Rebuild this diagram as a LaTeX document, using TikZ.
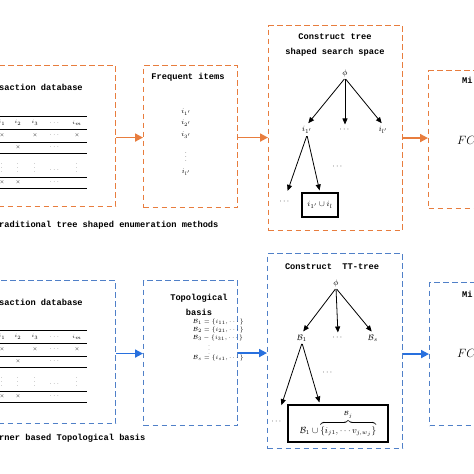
\documentclass[tikz,border=0pt]{standalone}
\usepackage{fontspec}
\usepackage{amsmath}
\newfontfamily\titlefont{Liberation Mono}
\usetikzlibrary{arrows.meta}

\definecolor{boxorange}{RGB}{232,125,62}
\definecolor{boxblue}{RGB}{80,128,200}
\definecolor{arrowblue}{RGB}{40,112,222}

\tikzset{
  stagebox/.style={line width=1.1pt, dash pattern=on 5.5pt off 3.5pt, inner sep=0pt, anchor=north west},
  flowarrow/.style={line width=1.8pt, -{Triangle[length=8pt,width=8pt]}},
  treearrow/.style={line width=0.8pt, -{Triangle[length=6pt,width=5pt]}, shorten >=2pt, shorten <=1pt},
  title/.style={font=\titlefont\bfseries\fontsize{8.7}{15}\selectfont, align=center, inner sep=0pt},
  treelabel/.style={font=\footnotesize, inner sep=1.5pt},
  itemlabel/.style={font=\fontsize{7}{7}\selectfont, inner sep=0pt},
  setlabel/.style={font=\fontsize{6}{6}\selectfont, inner sep=0pt, anchor=west},
  cell/.style={font=\fontsize{5}{5}\selectfont, inner sep=0pt},
}

% transaction table, #1 = name prefix
\newcommand{\transtable}[1]{
  \foreach \ry in {129,142,153} \draw[line width=0.4pt] (-5,\ry) -- (87,\ry);
  \foreach \ry in {116,177,188} \draw[line width=0.9pt] (-5,\ry) -- (87,\ry);
  \node[cell] (#1-h1) at (2,123) {$i_1$};
  \node[cell] (#1-h2) at (18,123) {$i_2$};
  \node[cell] (#1-h3) at (35,123) {$i_3$};
  \node[cell] (#1-h4) at (55,123) {$\cdots$};
  \node[cell] (#1-h5) at (77,123) {$i_m$};
  \node[cell] (#1-a1) at (2,135) {$\times$};
  \node[cell] (#1-a3) at (35,135) {$\times$};
  \node[cell] (#1-a4) at (55,135) {$\cdots$};
  \node[cell] (#1-a5) at (77,135) {$\times$};
  \node[cell] (#1-b2) at (18,147) {$\times$};
  \node[cell] (#1-b4) at (55,147) {$\cdots$};
  \foreach \cx/\cn in {2/1,18/2,35/3,77/5}
    \node[cell] (#1-c\cn) at (\cx,165) {$\vdots$};
  \node[cell] (#1-c4) at (55,170) {$\cdots$};
  \node[cell] (#1-d1) at (2,182) {$\times$};
  \node[cell] (#1-d2) at (18,182) {$\times$};
  \node[cell] (#1-d4) at (55,182) {$\cdots$};
}

\begin{document}
\begin{tikzpicture}[x=1pt,y=-1pt]
\useasboundingbox (0,0) rectangle (474,474);

% upper row: traditional enumeration
\node[stagebox, draw=boxorange, minimum width=135pt, minimum height=141pt] (db1) at (-20,65) {};
\node[stagebox, draw=boxorange, minimum width=94pt, minimum height=142pt] (freq1) at (143,65) {};
\node[stagebox, draw=boxorange, minimum width=134pt, minimum height=205pt] (tree1) at (268,25) {};
\node[stagebox, draw=boxorange, minimum width=100pt, minimum height=138pt] (mine1) at (428,70) {};

\draw[flowarrow, draw=boxorange, fill=boxorange] (db1.east) ++(0,1.5) coordinate (s1) -- (s1 -| freq1.west);
\draw[flowarrow, draw=boxorange, fill=boxorange] (freq1.east) ++(0,1) coordinate (s2) -- (s2 -| tree1.west);
\draw[flowarrow, draw=boxorange, fill=boxorange] (tree1.east) ++(0,10) coordinate (s3) -- (s3 -| mine1.west);

\node[title, anchor=west] (dbt1) at (-1,87) {saction database};
\begin{scope}
\transtable{t1}
\end{scope}
\node[title, anchor=west] (cap1) at (-1,225) {raditional tree shaped enumeration methods};

\node[title] (freqt1) at (188,77) {Frequent items};
\node[itemlabel] (i1) at (186,112) {$i_{1'}$};
\node[itemlabel] (i2) at (186,123) {$i_{2'}$};
\node[itemlabel] (i3) at (186,135) {$i_{3'}$};
\node[itemlabel, font=\fontsize{6}{6}\selectfont] (i4) at (186,154) {$\vdots$};
\node[itemlabel] (i5) at (186,172) {$i_{l'}$};

\node[title] (treet1) at (335,45) {Construct tree\\shaped search space};
\node[treelabel] (phi1) at (345,73) {$\phi$};
\node[treelabel] (a1) at (307,130) {$i_{1'}$};
\node[treelabel] (b1) at (345,130) {$\cdots$};
\node[treelabel] (c1) at (383,130) {$i_{l'}$};
\node[treelabel] (m1) at (338,167) {$\cdots$};
\node[treelabel] (d1) at (285,202) {$\cdots$};
\node[draw, line width=1.2pt, font=\footnotesize, minimum width=36pt, minimum height=24pt, inner sep=1pt] (e1) at (320,205) {$i_{1'}\cup i_l$};
\draw[treearrow] (phi1.south) -- (a1.north);
\draw[treearrow] (phi1.south) -- (b1.north);
\draw[treearrow] (phi1.south) -- (c1.north);
\draw[treearrow, shorten >=8pt] (a1.south) -- (d1.north);
\draw[treearrow] (a1.south) -- (e1.north);

\node[title, anchor=west] (minet1) at (462,80) {Mi};
\node[font=\large, anchor=west, inner sep=0pt] (fc1) at (457,140) {$FC$};

% lower row: topological basis
\node[stagebox, draw=boxblue, minimum width=135pt, minimum height=143pt] (db2) at (-20,280) {};
\node[stagebox, draw=boxblue, minimum width=94pt, minimum height=145pt] (basis2) at (143,280) {};
\node[stagebox, draw=boxblue, minimum width=135pt, minimum height=195pt] (tree2) at (267,253) {};
\node[stagebox, draw=boxblue, minimum width=100pt, minimum height=143pt] (mine2) at (429,282) {};

\draw[flowarrow, draw=arrowblue, fill=arrowblue] (db2.east) ++(0,1.5) coordinate (s4) -- (s4 -| basis2.west);
\draw[flowarrow, draw=arrowblue, fill=arrowblue] (basis2.east) coordinate (s5) -- (s5 -| tree2.west);
\draw[flowarrow, draw=arrowblue, fill=arrowblue] (tree2.east) ++(0,3) coordinate (s6) -- (s6 -| mine2.west);

\node[title, anchor=west] (dbt2) at (-1,302) {saction database};
\begin{scope}[yshift=-214pt]
\transtable{t2}
\end{scope}
\node[title, anchor=west] (cap2) at (-1,438) {rner based Topological basis};

\node[title] (basist2) at (199,304.5) {Topological\\basis};
\node[setlabel] (set1) at (193,322) {$\mathcal{B}_1=\{i_{11},\cdots\}$};
\node[setlabel] (set2) at (193,330) {$\mathcal{B}_2=\{i_{21},\cdots\}$};
\node[setlabel] (set3) at (193,338) {$\mathcal{B}_3-\{i_{31},\cdots\}$};
\node[setlabel, font=\fontsize{5}{5}\selectfont] (set4) at (208,347.5) {$\vdots$};
\node[setlabel] (set5) at (193,358) {$\mathcal{B}_s=\{i_{s1},\cdots\}$};

\node[title] (treet2) at (332,267) {Construct\ \ TT-tree};
\node[treelabel] (phi2) at (336,283) {$\phi$};
\node[treelabel] (a2) at (302,338) {$\mathcal{B}_1$};
\node[treelabel] (b2) at (338,338) {$\cdots$};
\node[treelabel] (c2) at (373,338) {$\mathcal{B}_s$};
\node[treelabel] (m2) at (328,373) {$\cdots$};
\node[treelabel] (d2) at (277,422) {$\cdots$};
\node[draw, line width=1.2pt, font=\small, minimum width=100pt, minimum height=37pt, inner sep=1pt] (e2) at (338,423.5)
  {$\mathcal{B}_1\cup\overbrace{\{i_{j1},\cdots v_{j,w_j}\}}^{\mathcal{B}_j}$};
\draw[treearrow] (phi2.south) -- (a2.north);
\draw[treearrow] (phi2.south) -- (b2.north);
\draw[treearrow] (phi2.south) -- (c2.north);
\draw[treearrow, shorten >=14pt] (a2.south) -- (d2.north);
\draw[treearrow] (a2.south) -- ([xshift=-18pt]e2.north);

\node[title, anchor=west] (minet2) at (462,294) {Mi};
\node[font=\large, anchor=west, inner sep=0pt] (fc2) at (457,353) {$FC$};
\end{tikzpicture}
\end{document}
